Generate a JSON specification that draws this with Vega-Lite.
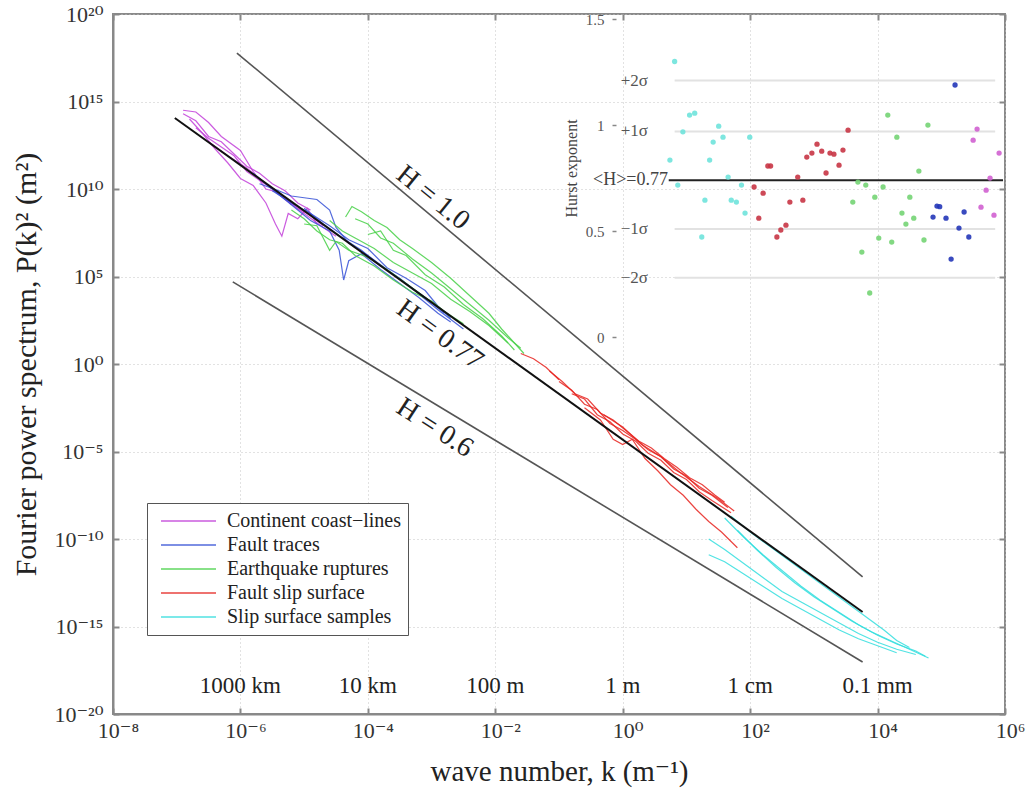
{
  "$schema": "https://vega.github.io/schema/vega-lite/v6.json",
  "width": 892,
  "height": 700,
  "autosize": "none",
  "padding": {"left": 113, "top": 14, "right": 21, "bottom": 82},
  "config": {
    "font": "Liberation Serif",
    "view": {"stroke": "#8a8a8a", "strokeWidth": 2},
    "axis": {"labelFont": "Liberation Serif, DejaVu Serif", "titleFont": "Liberation Serif, DejaVu Serif", "titleFontWeight": "normal"},
    "text": {"font": "Liberation Serif"},
    "legend": {"labelFont": "Liberation Serif"}
  },
  "datasets": {
    "series_info": [
      {"series": "C1", "dataset": "Continent coast−lines"},
      {"series": "C2", "dataset": "Continent coast−lines"},
      {"series": "C3", "dataset": "Continent coast−lines"},
      {"series": "C4", "dataset": "Continent coast−lines"},
      {"series": "C5", "dataset": "Continent coast−lines"},
      {"series": "F1", "dataset": "Fault traces"},
      {"series": "F2", "dataset": "Fault traces"},
      {"series": "F3", "dataset": "Fault traces"},
      {"series": "F4", "dataset": "Fault traces"},
      {"series": "E1", "dataset": "Earthquake ruptures"},
      {"series": "E2", "dataset": "Earthquake ruptures"},
      {"series": "E3", "dataset": "Earthquake ruptures"},
      {"series": "E4", "dataset": "Earthquake ruptures"},
      {"series": "E5", "dataset": "Earthquake ruptures"},
      {"series": "E6", "dataset": "Earthquake ruptures"},
      {"series": "R1", "dataset": "Fault slip surface"},
      {"series": "R2", "dataset": "Fault slip surface"},
      {"series": "R3", "dataset": "Fault slip surface"},
      {"series": "R4", "dataset": "Fault slip surface"},
      {"series": "R5", "dataset": "Fault slip surface"},
      {"series": "R6", "dataset": "Fault slip surface"},
      {"series": "S1", "dataset": "Slip surface samples"},
      {"series": "S2", "dataset": "Slip surface samples"},
      {"series": "S3", "dataset": "Slip surface samples"},
      {"series": "S4", "dataset": "Slip surface samples"},
      {"series": "S5", "dataset": "Slip surface samples"}
    ],
    "spectra": [
      {"series": "C1", "log_k": -6.9, "log_P": 14.3}, {"series": "C1", "log_k": -6.7, "log_P": 13.9}, {"series": "C1", "log_k": -6.5, "log_P": 13.0}, {"series": "C1", "log_k": -6.3, "log_P": 12.7}, {"series": "C1", "log_k": -6.1, "log_P": 12.0}, {"series": "C1", "log_k": -5.9, "log_P": 11.3}, {"series": "C1", "log_k": -5.7, "log_P": 10.9}, {"series": "C1", "log_k": -5.5, "log_P": 10.3}, {"series": "C1", "log_k": -5.3, "log_P": 9.9}, {"series": "C1", "log_k": -5.1, "log_P": 9.2}, {"series": "C1", "log_k": -4.9, "log_P": 8.8},
      {"series": "C2", "log_k": -6.8, "log_P": 14.0}, {"series": "C2", "log_k": -6.6, "log_P": 13.2}, {"series": "C2", "log_k": -6.4, "log_P": 12.3}, {"series": "C2", "log_k": -6.2, "log_P": 11.5}, {"series": "C2", "log_k": -6.0, "log_P": 10.6}, {"series": "C2", "log_k": -5.8, "log_P": 10.2}, {"series": "C2", "log_k": -5.6, "log_P": 9.2}, {"series": "C2", "log_k": -5.45, "log_P": 8.0}, {"series": "C2", "log_k": -5.35, "log_P": 7.3}, {"series": "C2", "log_k": -5.25, "log_P": 8.6}, {"series": "C2", "log_k": -5.1, "log_P": 8.3}, {"series": "C2", "log_k": -4.95, "log_P": 8.9}, {"series": "C2", "log_k": -4.8, "log_P": 8.0},
      {"series": "C3", "log_k": -6.7, "log_P": 13.5}, {"series": "C3", "log_k": -6.5, "log_P": 12.9}, {"series": "C3", "log_k": -6.3, "log_P": 12.4}, {"series": "C3", "log_k": -6.1, "log_P": 11.9}, {"series": "C3", "log_k": -5.9, "log_P": 11.0}, {"series": "C3", "log_k": -5.7, "log_P": 10.5}, {"series": "C3", "log_k": -5.5, "log_P": 10.0}, {"series": "C3", "log_k": -5.3, "log_P": 9.5}, {"series": "C3", "log_k": -5.1, "log_P": 8.9}, {"series": "C3", "log_k": -4.9, "log_P": 8.5}, {"series": "C3", "log_k": -4.7, "log_P": 7.9},
      {"series": "C4", "log_k": -6.5, "log_P": 12.7}, {"series": "C4", "log_k": -6.2, "log_P": 11.9}, {"series": "C4", "log_k": -5.9, "log_P": 11.2}, {"series": "C4", "log_k": -5.6, "log_P": 10.3}, {"series": "C4", "log_k": -5.3, "log_P": 9.4}, {"series": "C4", "log_k": -5.0, "log_P": 8.6}, {"series": "C4", "log_k": -4.7, "log_P": 7.8}, {"series": "C4", "log_k": -4.5, "log_P": 7.3},
      {"series": "C5", "log_k": -6.9, "log_P": 14.5}, {"series": "C5", "log_k": -6.7, "log_P": 14.4}, {"series": "C5", "log_k": -6.5, "log_P": 13.8}, {"series": "C5", "log_k": -6.3, "log_P": 13.0}, {"series": "C5", "log_k": -6.0, "log_P": 12.2}, {"series": "C5", "log_k": -5.8, "log_P": 11.0}, {"series": "C5", "log_k": -5.6, "log_P": 10.0}, {"series": "C5", "log_k": -5.4, "log_P": 9.8}, {"series": "C5", "log_k": -5.2, "log_P": 9.1},
      {"series": "F1", "log_k": -5.7, "log_P": 10.3}, {"series": "F1", "log_k": -5.4, "log_P": 9.9}, {"series": "F1", "log_k": -5.2, "log_P": 9.6}, {"series": "F1", "log_k": -5.0, "log_P": 9.5}, {"series": "F1", "log_k": -4.8, "log_P": 9.4}, {"series": "F1", "log_k": -4.6, "log_P": 8.8}, {"series": "F1", "log_k": -4.5, "log_P": 7.8}, {"series": "F1", "log_k": -4.3, "log_P": 6.9}, {"series": "F1", "log_k": -4.0, "log_P": 6.2}, {"series": "F1", "log_k": -3.7, "log_P": 5.4}, {"series": "F1", "log_k": -3.4, "log_P": 4.6}, {"series": "F1", "log_k": -3.1, "log_P": 3.8}, {"series": "F1", "log_k": -2.8, "log_P": 2.9},
      {"series": "F2", "log_k": -5.8, "log_P": 10.9}, {"series": "F2", "log_k": -5.5, "log_P": 10.0}, {"series": "F2", "log_k": -5.2, "log_P": 9.1}, {"series": "F2", "log_k": -4.9, "log_P": 8.2}, {"series": "F2", "log_k": -4.6, "log_P": 7.6}, {"series": "F2", "log_k": -4.45, "log_P": 6.5}, {"series": "F2", "log_k": -4.38, "log_P": 4.8}, {"series": "F2", "log_k": -4.3, "log_P": 5.9}, {"series": "F2", "log_k": -4.1, "log_P": 6.3}, {"series": "F2", "log_k": -3.8, "log_P": 5.4}, {"series": "F2", "log_k": -3.5, "log_P": 4.6}, {"series": "F2", "log_k": -3.2, "log_P": 3.8}, {"series": "F2", "log_k": -2.9, "log_P": 2.9}, {"series": "F2", "log_k": -2.7, "log_P": 2.4},
      {"series": "F3", "log_k": -5.5, "log_P": 9.9}, {"series": "F3", "log_k": -5.2, "log_P": 9.2}, {"series": "F3", "log_k": -4.9, "log_P": 8.6}, {"series": "F3", "log_k": -4.6, "log_P": 7.9}, {"series": "F3", "log_k": -4.3, "log_P": 7.1}, {"series": "F3", "log_k": -4.0, "log_P": 6.6}, {"series": "F3", "log_k": -3.7, "log_P": 5.5}, {"series": "F3", "log_k": -3.4, "log_P": 4.9}, {"series": "F3", "log_k": -3.1, "log_P": 4.2}, {"series": "F3", "log_k": -2.9, "log_P": 3.3}, {"series": "F3", "log_k": -2.7, "log_P": 2.6},
      {"series": "F4", "log_k": -5.0, "log_P": 8.9}, {"series": "F4", "log_k": -4.7, "log_P": 8.0}, {"series": "F4", "log_k": -4.4, "log_P": 7.2}, {"series": "F4", "log_k": -4.1, "log_P": 6.5}, {"series": "F4", "log_k": -3.8, "log_P": 5.6}, {"series": "F4", "log_k": -3.5, "log_P": 4.9}, {"series": "F4", "log_k": -3.2, "log_P": 4.0}, {"series": "F4", "log_k": -2.9, "log_P": 3.1}, {"series": "F4", "log_k": -2.5, "log_P": 2.0},
      {"series": "E1", "log_k": -4.35, "log_P": 8.4}, {"series": "E1", "log_k": -4.25, "log_P": 9.0}, {"series": "E1", "log_k": -4.1, "log_P": 8.7}, {"series": "E1", "log_k": -3.9, "log_P": 8.2}, {"series": "E1", "log_k": -3.7, "log_P": 7.8}, {"series": "E1", "log_k": -3.5, "log_P": 7.1}, {"series": "E1", "log_k": -3.3, "log_P": 6.6}, {"series": "E1", "log_k": -3.0, "log_P": 5.8}, {"series": "E1", "log_k": -2.7, "log_P": 4.9}, {"series": "E1", "log_k": -2.4, "log_P": 3.9}, {"series": "E1", "log_k": -2.1, "log_P": 2.9}, {"series": "E1", "log_k": -1.9, "log_P": 2.0}, {"series": "E1", "log_k": -1.7, "log_P": 1.2}, {"series": "E1", "log_k": -1.55, "log_P": 0.6},
      {"series": "E2", "log_k": -4.2, "log_P": 8.3}, {"series": "E2", "log_k": -4.0, "log_P": 8.0}, {"series": "E2", "log_k": -3.8, "log_P": 7.2}, {"series": "E2", "log_k": -3.6, "log_P": 6.9}, {"series": "E2", "log_k": -3.3, "log_P": 6.0}, {"series": "E2", "log_k": -3.0, "log_P": 5.2}, {"series": "E2", "log_k": -2.7, "log_P": 4.3}, {"series": "E2", "log_k": -2.4, "log_P": 3.4}, {"series": "E2", "log_k": -2.1, "log_P": 2.5}, {"series": "E2", "log_k": -1.8, "log_P": 1.5}, {"series": "E2", "log_k": -1.6, "log_P": 0.9},
      {"series": "E3", "log_k": -4.0, "log_P": 7.4}, {"series": "E3", "log_k": -3.8, "log_P": 7.6}, {"series": "E3", "log_k": -3.6, "log_P": 6.5}, {"series": "E3", "log_k": -3.4, "log_P": 6.2}, {"series": "E3", "log_k": -3.1, "log_P": 5.1}, {"series": "E3", "log_k": -2.8, "log_P": 4.4}, {"series": "E3", "log_k": -2.5, "log_P": 3.4}, {"series": "E3", "log_k": -2.2, "log_P": 2.6}, {"series": "E3", "log_k": -1.9, "log_P": 1.6}, {"series": "E3", "log_k": -1.7, "log_P": 0.8},
      {"series": "E4", "log_k": -5.2, "log_P": 8.8}, {"series": "E4", "log_k": -5.0, "log_P": 8.3}, {"series": "E4", "log_k": -4.8, "log_P": 7.6}, {"series": "E4", "log_k": -4.6, "log_P": 7.1}, {"series": "E4", "log_k": -4.4, "log_P": 6.9}, {"series": "E4", "log_k": -4.2, "log_P": 6.2}, {"series": "E4", "log_k": -3.9, "log_P": 5.6}, {"series": "E4", "log_k": -3.6, "log_P": 4.8}, {"series": "E4", "log_k": -3.3, "log_P": 4.1}, {"series": "E4", "log_k": -3.0, "log_P": 3.6}, {"series": "E4", "log_k": -2.7, "log_P": 2.7},
      {"series": "E5", "log_k": -5.0, "log_P": 8.0}, {"series": "E5", "log_k": -4.8, "log_P": 7.9}, {"series": "E5", "log_k": -4.6, "log_P": 6.5}, {"series": "E5", "log_k": -4.5, "log_P": 7.0}, {"series": "E5", "log_k": -4.3, "log_P": 6.5}, {"series": "E5", "log_k": -4.0, "log_P": 6.1}, {"series": "E5", "log_k": -3.7, "log_P": 5.4}, {"series": "E5", "log_k": -3.4, "log_P": 4.6}, {"series": "E5", "log_k": -3.1, "log_P": 3.8}, {"series": "E5", "log_k": -2.8, "log_P": 3.0}, {"series": "E5", "log_k": -2.5, "log_P": 2.3},
      {"series": "E6", "log_k": -4.6, "log_P": 8.2}, {"series": "E6", "log_k": -4.4, "log_P": 7.6}, {"series": "E6", "log_k": -4.2, "log_P": 7.2}, {"series": "E6", "log_k": -3.9, "log_P": 6.6}, {"series": "E6", "log_k": -3.6, "log_P": 5.8}, {"series": "E6", "log_k": -3.3, "log_P": 5.2}, {"series": "E6", "log_k": -3.0, "log_P": 4.6}, {"series": "E6", "log_k": -2.7, "log_P": 3.7}, {"series": "E6", "log_k": -2.4, "log_P": 3.0}, {"series": "E6", "log_k": -2.1, "log_P": 2.2}, {"series": "E6", "log_k": -1.8, "log_P": 1.2},
      {"series": "R1", "log_k": -1.15, "log_P": -0.4}, {"series": "R1", "log_k": -0.95, "log_P": -1.0}, {"series": "R1", "log_k": -0.75, "log_P": -1.7}, {"series": "R1", "log_k": -0.55, "log_P": -2.0}, {"series": "R1", "log_k": -0.35, "log_P": -2.8}, {"series": "R1", "log_k": -0.15, "log_P": -3.2}, {"series": "R1", "log_k": 0.05, "log_P": -3.8}, {"series": "R1", "log_k": 0.25, "log_P": -4.4}, {"series": "R1", "log_k": 0.45, "log_P": -4.8}, {"series": "R1", "log_k": 0.65, "log_P": -5.4}, {"series": "R1", "log_k": 0.85, "log_P": -5.9}, {"series": "R1", "log_k": 1.05, "log_P": -6.5}, {"series": "R1", "log_k": 1.25, "log_P": -6.9}, {"series": "R1", "log_k": 1.45, "log_P": -7.5}, {"series": "R1", "log_k": 1.6, "log_P": -7.9},
      {"series": "R2", "log_k": -1.0, "log_P": -1.0}, {"series": "R2", "log_k": -0.8, "log_P": -1.5}, {"series": "R2", "log_k": -0.6, "log_P": -2.3}, {"series": "R2", "log_k": -0.4, "log_P": -2.6}, {"series": "R2", "log_k": -0.2, "log_P": -3.4}, {"series": "R2", "log_k": 0.0, "log_P": -3.8}, {"series": "R2", "log_k": 0.2, "log_P": -4.3}, {"series": "R2", "log_k": 0.4, "log_P": -4.9}, {"series": "R2", "log_k": 0.6, "log_P": -5.3}, {"series": "R2", "log_k": 0.8, "log_P": -6.0}, {"series": "R2", "log_k": 1.0, "log_P": -6.4}, {"series": "R2", "log_k": 1.2, "log_P": -7.1}, {"series": "R2", "log_k": 1.4, "log_P": -7.5}, {"series": "R2", "log_k": 1.65, "log_P": -8.2},
      {"series": "R3", "log_k": -0.8, "log_P": -1.7}, {"series": "R3", "log_k": -0.6, "log_P": -2.0}, {"series": "R3", "log_k": -0.4, "log_P": -2.9}, {"series": "R3", "log_k": -0.2, "log_P": -3.3}, {"series": "R3", "log_k": 0.0, "log_P": -4.0}, {"series": "R3", "log_k": 0.2, "log_P": -4.4}, {"series": "R3", "log_k": 0.4, "log_P": -5.1}, {"series": "R3", "log_k": 0.6, "log_P": -5.5}, {"series": "R3", "log_k": 0.8, "log_P": -6.2}, {"series": "R3", "log_k": 1.0, "log_P": -6.6}, {"series": "R3", "log_k": 1.2, "log_P": -7.3}, {"series": "R3", "log_k": 1.4, "log_P": -7.8}, {"series": "R3", "log_k": 1.7, "log_P": -8.5},
      {"series": "R4", "log_k": -0.6, "log_P": -2.5}, {"series": "R4", "log_k": -0.35, "log_P": -3.2}, {"series": "R4", "log_k": -0.15, "log_P": -4.3}, {"series": "R4", "log_k": 0.0, "log_P": -4.6}, {"series": "R4", "log_k": 0.15, "log_P": -4.3}, {"series": "R4", "log_k": 0.35, "log_P": -5.4}, {"series": "R4", "log_k": 0.55, "log_P": -6.1}, {"series": "R4", "log_k": 0.75, "log_P": -6.9}, {"series": "R4", "log_k": 0.95, "log_P": -7.5}, {"series": "R4", "log_k": 1.15, "log_P": -8.3}, {"series": "R4", "log_k": 1.35, "log_P": -9.0}, {"series": "R4", "log_k": 1.55, "log_P": -9.6}, {"series": "R4", "log_k": 1.8, "log_P": -10.5},
      {"series": "R5", "log_k": -0.3, "log_P": -2.9}, {"series": "R5", "log_k": 0.0, "log_P": -3.6}, {"series": "R5", "log_k": 0.3, "log_P": -4.6}, {"series": "R5", "log_k": 0.6, "log_P": -5.3}, {"series": "R5", "log_k": 0.9, "log_P": -6.2}, {"series": "R5", "log_k": 1.2, "log_P": -7.0}, {"series": "R5", "log_k": 1.5, "log_P": -7.7}, {"series": "R5", "log_k": 1.75, "log_P": -8.4},
      {"series": "R6", "log_k": -1.6, "log_P": 0.6}, {"series": "R6", "log_k": -1.4, "log_P": 0.3}, {"series": "R6", "log_k": -1.2, "log_P": -0.2}, {"series": "R6", "log_k": -1.0, "log_P": -0.9},
      {"series": "S1", "log_k": 1.7, "log_P": -8.7}, {"series": "S1", "log_k": 2.0, "log_P": -9.6}, {"series": "S1", "log_k": 2.3, "log_P": -10.4}, {"series": "S1", "log_k": 2.6, "log_P": -11.2}, {"series": "S1", "log_k": 2.9, "log_P": -12.0}, {"series": "S1", "log_k": 3.2, "log_P": -12.8}, {"series": "S1", "log_k": 3.5, "log_P": -13.6}, {"series": "S1", "log_k": 3.8, "log_P": -14.4}, {"series": "S1", "log_k": 4.1, "log_P": -15.2}, {"series": "S1", "log_k": 4.3, "log_P": -15.8}, {"series": "S1", "log_k": 4.5, "log_P": -16.2},
      {"series": "S2", "log_k": 1.6, "log_P": -8.8}, {"series": "S2", "log_k": 1.9, "log_P": -9.9}, {"series": "S2", "log_k": 2.2, "log_P": -10.9}, {"series": "S2", "log_k": 2.5, "log_P": -11.8}, {"series": "S2", "log_k": 2.8, "log_P": -12.7}, {"series": "S2", "log_k": 3.1, "log_P": -13.5}, {"series": "S2", "log_k": 3.4, "log_P": -14.2}, {"series": "S2", "log_k": 3.7, "log_P": -14.9}, {"series": "S2", "log_k": 4.0, "log_P": -15.5}, {"series": "S2", "log_k": 4.3, "log_P": -16.0}, {"series": "S2", "log_k": 4.6, "log_P": -16.4}, {"series": "S2", "log_k": 4.75, "log_P": -16.7},
      {"series": "S3", "log_k": 1.35, "log_P": -10.0}, {"series": "S3", "log_k": 1.6, "log_P": -10.6}, {"series": "S3", "log_k": 1.9, "log_P": -11.4}, {"series": "S3", "log_k": 2.2, "log_P": -12.2}, {"series": "S3", "log_k": 2.5, "log_P": -13.0}, {"series": "S3", "log_k": 2.8, "log_P": -13.6}, {"series": "S3", "log_k": 3.1, "log_P": -14.2}, {"series": "S3", "log_k": 3.4, "log_P": -14.8}, {"series": "S3", "log_k": 3.7, "log_P": -15.4}, {"series": "S3", "log_k": 4.0, "log_P": -15.9}, {"series": "S3", "log_k": 4.3, "log_P": -16.3}, {"series": "S3", "log_k": 4.6, "log_P": -16.6},
      {"series": "S4", "log_k": 1.35, "log_P": -10.9}, {"series": "S4", "log_k": 1.6, "log_P": -11.3}, {"series": "S4", "log_k": 1.9, "log_P": -12.0}, {"series": "S4", "log_k": 2.2, "log_P": -12.7}, {"series": "S4", "log_k": 2.5, "log_P": -13.4}, {"series": "S4", "log_k": 2.8, "log_P": -14.0}, {"series": "S4", "log_k": 3.1, "log_P": -14.6}, {"series": "S4", "log_k": 3.4, "log_P": -15.2}, {"series": "S4", "log_k": 3.7, "log_P": -15.7}, {"series": "S4", "log_k": 4.0, "log_P": -16.1}, {"series": "S4", "log_k": 4.3, "log_P": -16.5},
      {"series": "S5", "log_k": 1.8, "log_P": -9.5}, {"series": "S5", "log_k": 2.1, "log_P": -10.6}, {"series": "S5", "log_k": 2.4, "log_P": -11.6}, {"series": "S5", "log_k": 2.7, "log_P": -12.5}, {"series": "S5", "log_k": 3.0, "log_P": -13.3}, {"series": "S5", "log_k": 3.3, "log_P": -14.0}, {"series": "S5", "log_k": 3.6, "log_P": -14.7}, {"series": "S5", "log_k": 3.9, "log_P": -15.3}, {"series": "S5", "log_k": 4.2, "log_P": -15.8}, {"series": "S5", "log_k": 4.5, "log_P": -16.3}, {"series": "S5", "log_k": 4.8, "log_P": -16.8}
    ],
    "fits": [
      {"fit": "H = 1.0", "log_k": -6.055, "log_P": 17.77},
      {"fit": "H = 1.0", "log_k": 3.765, "log_P": -12.17},
      {"fit": "H = 0.77", "log_k": -7.03, "log_P": 14.06},
      {"fit": "H = 0.77", "log_k": 3.765, "log_P": -14.17},
      {"fit": "H = 0.6", "log_k": -6.12, "log_P": 4.69},
      {"fit": "H = 0.6", "log_k": 3.765, "log_P": -17.03}
    ],
    "fit_labels": [
      {"fit": "H = 1.0", "log_k": -2.98, "log_P": 9.49},
      {"fit": "H = 0.77", "log_k": -2.87, "log_P": 1.66},
      {"fit": "H = 0.6", "log_k": -2.95, "log_P": -3.66}
    ],
    "wavelengths": [
      {"label": "1000 km", "log_k": -6},
      {"label": "10 km", "log_k": -4},
      {"label": "100 m", "log_k": -2},
      {"label": "1 m", "log_k": 0},
      {"label": "1 cm", "log_k": 2},
      {"label": "0.1 mm", "log_k": 4}
    ],
    "hurst": [
      {"idx": 16.0, "H": 1.30, "dataset": "Slip surface samples"}, {"idx": 14.8, "H": 0.835, "dataset": "Slip surface samples"}, {"idx": 16.8, "H": 0.717, "dataset": "Slip surface samples"}, {"idx": 18.1, "H": 0.968, "dataset": "Slip surface samples"}, {"idx": 19.8, "H": 1.047, "dataset": "Slip surface samples"}, {"idx": 21.1, "H": 1.056, "dataset": "Slip surface samples"}, {"idx": 22.9, "H": 0.472, "dataset": "Slip surface samples"}, {"idx": 23.7, "H": 0.646, "dataset": "Slip surface samples"}, {"idx": 24.9, "H": 0.835, "dataset": "Slip surface samples"}, {"idx": 25.8, "H": 0.920, "dataset": "Slip surface samples"}, {"idx": 27.2, "H": 0.995, "dataset": "Slip surface samples"}, {"idx": 28.3, "H": 0.943, "dataset": "Slip surface samples"}, {"idx": 29.6, "H": 0.755, "dataset": "Slip surface samples"}, {"idx": 30.4, "H": 0.646, "dataset": "Slip surface samples"}, {"idx": 31.7, "H": 0.637, "dataset": "Slip surface samples"}, {"idx": 33.0, "H": 0.717, "dataset": "Slip surface samples"}, {"idx": 33.9, "H": 0.585, "dataset": "Slip surface samples"}, {"idx": 35.1, "H": 0.943, "dataset": "Slip surface samples"},
      {"idx": 36.2, "H": 0.708, "dataset": "Fault slip surface"}, {"idx": 37.4, "H": 0.561, "dataset": "Fault slip surface"}, {"idx": 38.5, "H": 0.679, "dataset": "Fault slip surface"}, {"idx": 39.7, "H": 0.807, "dataset": "Fault slip surface"}, {"idx": 40.4, "H": 0.807, "dataset": "Fault slip surface"}, {"idx": 42.0, "H": 0.472, "dataset": "Fault slip surface"}, {"idx": 43.0, "H": 0.505, "dataset": "Fault slip surface"}, {"idx": 44.3, "H": 0.528, "dataset": "Fault slip surface"}, {"idx": 45.3, "H": 0.637, "dataset": "Fault slip surface"}, {"idx": 47.3, "H": 0.755, "dataset": "Fault slip surface"}, {"idx": 48.6, "H": 0.646, "dataset": "Fault slip surface"}, {"idx": 49.6, "H": 0.849, "dataset": "Fault slip surface"}, {"idx": 50.9, "H": 0.868, "dataset": "Fault slip surface"}, {"idx": 52.2, "H": 0.910, "dataset": "Fault slip surface"}, {"idx": 53.4, "H": 0.877, "dataset": "Fault slip surface"}, {"idx": 54.5, "H": 0.774, "dataset": "Fault slip surface"}, {"idx": 55.5, "H": 0.868, "dataset": "Fault slip surface"}, {"idx": 56.5, "H": 0.863, "dataset": "Fault slip surface"}, {"idx": 57.8, "H": 0.811, "dataset": "Fault slip surface"}, {"idx": 58.8, "H": 0.882, "dataset": "Fault slip surface"}, {"idx": 60.1, "H": 0.976, "dataset": "Fault slip surface"},
      {"idx": 61.3, "H": 0.637, "dataset": "Earthquake ruptures"}, {"idx": 62.6, "H": 0.731, "dataset": "Earthquake ruptures"}, {"idx": 63.6, "H": 0.401, "dataset": "Earthquake ruptures"}, {"idx": 64.6, "H": 0.717, "dataset": "Earthquake ruptures"}, {"idx": 65.6, "H": 0.208, "dataset": "Earthquake ruptures"}, {"idx": 66.9, "H": 0.660, "dataset": "Earthquake ruptures"}, {"idx": 67.9, "H": 0.467, "dataset": "Earthquake ruptures"}, {"idx": 69.0, "H": 0.708, "dataset": "Earthquake ruptures"}, {"idx": 70.2, "H": 1.047, "dataset": "Earthquake ruptures"}, {"idx": 71.2, "H": 0.448, "dataset": "Earthquake ruptures"}, {"idx": 72.5, "H": 0.943, "dataset": "Earthquake ruptures"}, {"idx": 73.8, "H": 0.585, "dataset": "Earthquake ruptures"}, {"idx": 74.8, "H": 0.533, "dataset": "Earthquake ruptures"}, {"idx": 75.8, "H": 0.660, "dataset": "Earthquake ruptures"}, {"idx": 76.8, "H": 0.561, "dataset": "Earthquake ruptures"}, {"idx": 78.1, "H": 0.783, "dataset": "Earthquake ruptures"}, {"idx": 79.4, "H": 0.458, "dataset": "Earthquake ruptures"}, {"idx": 80.4, "H": 1.000, "dataset": "Earthquake ruptures"},
      {"idx": 81.7, "H": 0.566, "dataset": "Fault traces"}, {"idx": 82.7, "H": 0.618, "dataset": "Fault traces"}, {"idx": 83.4, "H": 0.615, "dataset": "Fault traces"}, {"idx": 85.0, "H": 0.561, "dataset": "Fault traces"}, {"idx": 86.3, "H": 0.368, "dataset": "Fault traces"}, {"idx": 87.3, "H": 1.189, "dataset": "Fault traces"}, {"idx": 88.3, "H": 0.514, "dataset": "Fault traces"}, {"idx": 89.6, "H": 0.590, "dataset": "Fault traces"}, {"idx": 90.8, "H": 0.472, "dataset": "Fault traces"},
      {"idx": 91.9, "H": 0.929, "dataset": "Continent coast−lines"}, {"idx": 92.9, "H": 0.981, "dataset": "Continent coast−lines"}, {"idx": 93.9, "H": 0.613, "dataset": "Continent coast−lines"}, {"idx": 95.2, "H": 0.693, "dataset": "Continent coast−lines"}, {"idx": 96.2, "H": 0.750, "dataset": "Continent coast−lines"}, {"idx": 97.2, "H": 0.575, "dataset": "Continent coast−lines"}, {"idx": 98.5, "H": 0.868, "dataset": "Continent coast−lines"}
    ],
    "sigma": [
      {"label": "+2σ", "H": 1.21},
      {"label": "+1σ", "H": 0.97},
      {"label": "−1σ", "H": 0.51},
      {"label": "−2σ", "H": 0.28}
    ],
    "mean": [
      {"label": "<H>=0.77", "H": 0.74}
    ]
  },
  "layer": [
    {
      "layer": [
        {
          "data": {"name": "spectra"},
          "transform": [
            {"lookup": "series", "from": {"data": {"name": "series_info"}, "key": "series", "fields": ["dataset"]}}
          ],
          "mark": {"type": "line", "strokeWidth": 1.2, "opacity": 0.85},
          "encoding": {
            "x": {
              "field": "log_k", "type": "quantitative",
              "scale": {"domain": [-8, 6], "nice": false, "zero": false},
              "axis": {
                "values": [-8, -6, -4, -2, 0, 2, 4, 6],
                "labelExpr": "datum.value == -8 ? '10⁻⁸' : datum.value == -6 ? '10⁻⁶' : datum.value == -4 ? '10⁻⁴' : datum.value == -2 ? '10⁻²' : datum.value == 0 ? '10⁰' : datum.value == 2 ? '10²' : datum.value == 4 ? '10⁴' : '10⁶'",
                "title": "wave number, k (m⁻¹)",
                "titleFontSize": 29, "titleColor": "#222", "titlePadding": 16,
                "labelFontSize": 22, "labelColor": "#333", "labelAlign": "center", "labelOffset": 5, "labelPadding": 12, "labelFlush": false,
                "tickSize": -6, "tickColor": "#888", "tickWidth": 2,
                "domainColor": "#888", "domainWidth": 2,
                "grid": true, "gridColor": "#c4c4c4", "gridDash": [1, 3], "gridWidth": 1
              }
            },
            "y": {
              "field": "log_P", "type": "quantitative",
              "scale": {"domain": [-20, 20], "nice": false, "zero": false},
              "axis": {
                "values": [-20, -15, -10, -5, 0, 5, 10, 15, 20],
                "labelExpr": "datum.value == 20 ? '10²⁰' : datum.value == 15 ? '10¹⁵' : datum.value == 10 ? '10¹⁰' : datum.value == 5 ? '10⁵' : datum.value == 0 ? '10⁰' : datum.value == -5 ? '10⁻⁵' : datum.value == -10 ? '10⁻¹⁰' : datum.value == -15 ? '10⁻¹⁵' : '10⁻²⁰'",
                "title": "Fourier power spectrum, P(k)² (m²)",
                "titleFontSize": 30, "titleColor": "#222", "titlePadding": 12,
                "labelFontSize": 22, "labelColor": "#333", "labelPadding": 16, "labelFlush": false,
                "tickSize": -6, "tickColor": "#888", "tickWidth": 2,
                "domainColor": "#888", "domainWidth": 2,
                "grid": true, "gridColor": "#c4c4c4", "gridDash": [1, 3], "gridWidth": 1
              }
            },
            "color": {
              "field": "dataset", "type": "nominal",
              "scale": {
                "domain": ["Continent coast−lines", "Fault traces", "Earthquake ruptures", "Fault slip surface", "Slip surface samples"],
                "range": ["#c23fd9", "#3550d6", "#46d046", "#e6231e", "#33dede"]
              },
              "legend": {
                "orient": "none", "legendX": 34, "legendY": 489, "title": null,
                "symbolType": "stroke", "symbolSize": 3025, "symbolStrokeWidth": 1.6,
                "clipHeight": 24, "rowPadding": 0, "padding": 6, "symbolOffset": 7,
                "labelFontSize": 20, "labelColor": "#222", "labelOffset": 10, "labelLimit": 400,
                "strokeColor": "#555", "fillColor": "white"
              }
            },
            "detail": {"field": "series"}
          }
        },
        {
          "data": {"name": "fits"},
          "transform": [{"filter": "datum.fit != 'H = 0.77'"}],
          "mark": {"type": "line", "color": "#555", "strokeWidth": 1.6},
          "encoding": {
            "x": {"field": "log_k", "type": "quantitative"},
            "y": {"field": "log_P", "type": "quantitative"},
            "detail": {"field": "fit"}
          }
        },
        {
          "data": {"name": "fits"},
          "transform": [{"filter": "datum.fit == 'H = 0.77'"}],
          "mark": {"type": "line", "color": "#111", "strokeWidth": 2},
          "encoding": {
            "x": {"field": "log_k", "type": "quantitative"},
            "y": {"field": "log_P", "type": "quantitative"}
          }
        },
        {
          "data": {"name": "fit_labels"},
          "transform": [{"filter": "datum.fit == 'H = 1.0'"}],
          "mark": {"type": "text", "angle": 39, "fontSize": 28, "color": "#222", "align": "center", "baseline": "middle"},
          "encoding": {
            "x": {"field": "log_k", "type": "quantitative"},
            "y": {"field": "log_P", "type": "quantitative"},
            "text": {"field": "fit"}
          }
        },
        {
          "data": {"name": "fit_labels"},
          "transform": [{"filter": "datum.fit == 'H = 0.77'"}],
          "mark": {"type": "text", "angle": 36, "fontSize": 28, "color": "#222", "align": "center", "baseline": "middle"},
          "encoding": {
            "x": {"field": "log_k", "type": "quantitative"},
            "y": {"field": "log_P", "type": "quantitative"},
            "text": {"field": "fit"}
          }
        },
        {
          "data": {"name": "fit_labels"},
          "transform": [{"filter": "datum.fit == 'H = 0.6'"}],
          "mark": {"type": "text", "angle": 33, "fontSize": 28, "color": "#222", "align": "center", "baseline": "middle"},
          "encoding": {
            "x": {"field": "log_k", "type": "quantitative"},
            "y": {"field": "log_P", "type": "quantitative"},
            "text": {"field": "fit"}
          }
        },
        {
          "data": {"name": "wavelengths"},
          "mark": {"type": "text", "fontSize": 23, "color": "#222", "align": "center", "baseline": "middle"},
          "encoding": {
            "x": {"field": "log_k", "type": "quantitative"},
            "y": {"datum": -18.4, "type": "quantitative"},
            "text": {"field": "label"}
          }
        }
      ]
    },
    {
      "layer": [
        {
          "mark": {"type": "rect", "fill": "white"},
          "encoding": {
            "x": {"datum": 0.3, "type": "quantitative", "scale": {"domain": [-126.8, 100], "nice": false, "zero": false}, "axis": null},
            "x2": {"datum": 99.7},
            "y": {"datum": -0.015, "type": "quantitative", "scale": {"domain": [-1.778, 1.524], "nice": false, "zero": false},
              "axis": {
                "orient": "left", "offset": -499, "values": [0, 0.5, 1, 1.5], "format": ".1~f",
                "domain": false, "grid": false, "zindex": 1,
                "tickSize": -4, "tickColor": "#888", "tickWidth": 1.5,
                "labelFontSize": 15, "labelColor": "#555", "labelPadding": 12, "labelFlush": false,
                "title": "Hurst exponent", "titleFontSize": 16, "titleColor": "#444", "titlePadding": 6, "titleY": 154
              }
            },
            "y2": {"datum": 1.515}
          }
        },
        {
          "mark": {"type": "rule", "color": "#888", "strokeWidth": 2},
          "encoding": {
            "x": {"datum": 0, "type": "quantitative"},
            "y": {"datum": -0.015, "type": "quantitative"},
            "y2": {"datum": 1.524}
          }
        },
        {
          "data": {"name": "sigma"},
          "mark": {"type": "rule", "color": "#e2e2e2", "strokeWidth": 2},
          "encoding": {
            "x": {"datum": 16, "type": "quantitative"},
            "x2": {"datum": 97.5},
            "y": {"field": "H", "type": "quantitative"}
          }
        },
        {
          "data": {"name": "sigma"},
          "mark": {"type": "text", "fontSize": 17, "color": "#555", "align": "left", "baseline": "middle"},
          "encoding": {
            "x": {"datum": 2.3, "type": "quantitative"},
            "y": {"field": "H", "type": "quantitative"},
            "text": {"field": "label"}
          }
        },
        {
          "data": {"name": "mean"},
          "mark": {"type": "rule", "color": "#222", "strokeWidth": 2},
          "encoding": {
            "x": {"datum": 14.5, "type": "quantitative"},
            "x2": {"datum": 99.5},
            "y": {"field": "H", "type": "quantitative"}
          }
        },
        {
          "data": {"name": "mean"},
          "mark": {"type": "text", "fontSize": 18, "color": "#444", "align": "right", "baseline": "middle"},
          "encoding": {
            "x": {"datum": 14.3, "type": "quantitative"},
            "y": {"field": "H", "type": "quantitative"},
            "text": {"field": "label"}
          }
        },
        {
          "data": {"name": "hurst"},
          "mark": {"type": "circle", "size": 28, "opacity": 0.9},
          "encoding": {
            "x": {"field": "idx", "type": "quantitative"},
            "y": {"field": "H", "type": "quantitative"},
            "color": {
              "field": "dataset", "type": "nominal",
              "scale": {
                "domain": ["Continent coast−lines", "Fault traces", "Earthquake ruptures", "Fault slip surface", "Slip surface samples"],
                "range": ["#d060d0", "#2436b8", "#74d474", "#c83545", "#6fe3dc"]
              },
              "legend": null
            }
          }
        }
      ]
    },
    {
      "mark": {"type": "point", "opacity": 0},
      "encoding": {
        "x": {
          "datum": 0, "type": "quantitative",
          "scale": {"domain": [-8, 6], "nice": false, "zero": false},
          "axis": {"orient": "top", "values": [-8, -6, -4, -2, 0, 2, 4, 6], "labels": false, "domain": false, "grid": false, "title": null, "tickSize": -6, "tickColor": "#888", "tickWidth": 2, "zindex": 1}
        },
        "y": {
          "datum": 0, "type": "quantitative",
          "scale": {"domain": [-20, 20], "nice": false, "zero": false},
          "axis": {"orient": "right", "values": [-20, -15, -10, -5, 0, 5, 10, 15, 20], "labels": false, "domain": false, "grid": false, "title": null, "tickSize": -6, "tickColor": "#888", "tickWidth": 2, "zindex": 1}
        }
      }
    }
  ],
  "resolve": {
    "scale": {"x": "independent", "y": "independent", "color": "independent"},
    "axis": {"x": "independent", "y": "independent"},
    "legend": {"color": "independent"}
  }
}
